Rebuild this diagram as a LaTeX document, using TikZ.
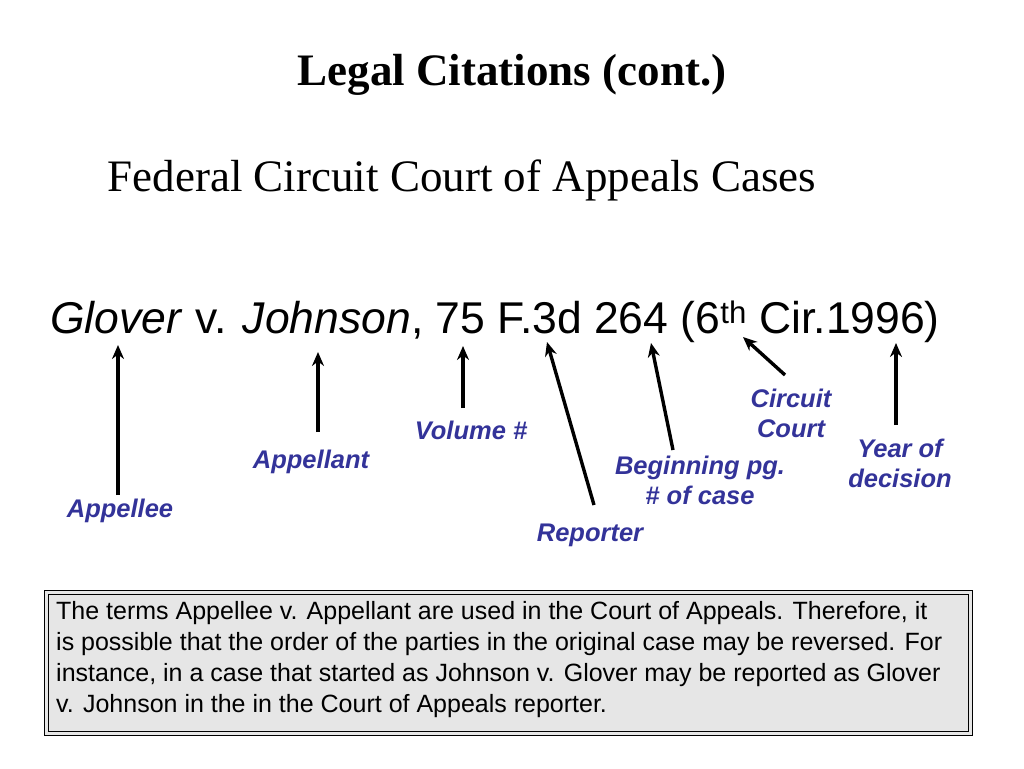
\documentclass[tikz,border=0pt]{standalone}
\usepackage{fontspec}
\setmainfont{Liberation Serif}
\setsansfont{Liberation Sans}
\usetikzlibrary{arrows.meta}
\definecolor{labelblue}{RGB}{51,51,153}
\definecolor{notegray}{RGB}{230,230,230}
\begin{document}
\begin{tikzpicture}[x=1pt,y=-1pt,
    part/.style={font=\sffamily\bfseries\itshape\fontsize{25.5}{30}\selectfont,text=labelblue,align=center},
    pointer/.style={-{Stealth[length=14pt,width=12pt]},line width=3.4pt}]
\useasboundingbox (0,0) rectangle (1024,768);
\node[font=\bfseries\fontsize{45}{52}\selectfont] (title) at (512,75) {Legal Citations (cont.)};
\node[font=\fontsize{45}{52}\selectfont] (sub) at (462,180) {Federal Circuit Court of Appeals Cases};
\node[anchor=base west,inner sep=0,font=\sffamily\fontsize{44.5}{52}\selectfont] (cite) at (50,333)
  {\textit{Glover} v. \textit{Johnson}, 75 F.3d 264 (6\textsuperscript{th} Cir.1996)};
% labels
\node[part] (appellee) at (120,511) {Appellee};
\node[part] (appellant) at (311,462) {Appellant};
\node[part] (volume) at (471,430) {Volume \#};
\node[part] (reporter) at (590,535) {Reporter};
\node[part] (begin) at (700,480) {Beginning pg.\\\# of case};
\node[part] (circuit) at (791,413) {Circuit\\Court};
\node[part] (year) at (900,463) {Year of\\decision};
% arrow ends
\coordinate (a1) at (118,345); \coordinate (t1) at (118,495);
\coordinate (a2) at (318,352); \coordinate (t2) at (318,432);
\coordinate (a3) at (463,346); \coordinate (t3) at (463,408);
\coordinate (a4) at (547,342); \coordinate (t4) at (594,505);
\coordinate (a5) at (651,343); \coordinate (t5) at (673,450);
\coordinate (a6) at (743,337); \coordinate (t6) at (785,375);
\coordinate (a7) at (896,343); \coordinate (t7) at (896,425);
\foreach \i in {1,...,7} \draw[pointer] (t\i) -- (a\i);
% note box
\draw[line width=1pt,fill=notegray] (44,590) rectangle (972,735);
\draw[line width=1pt] (48,594) rectangle (968,731);
\node[anchor=north west,inner sep=0,align=left,
      font=\sffamily\fontsize{25}{31}\selectfont] (note) at (56,601)
  {The terms Appellee v. Appellant are used in the Court of Appeals. Therefore, it\\
   is possible that the order of the parties in the original case may be reversed. For\\
   instance, in a case that started as Johnson v. Glover may be reported as Glover\\
   v. Johnson in the in the Court of Appeals reporter.};
\end{tikzpicture}
\end{document}
